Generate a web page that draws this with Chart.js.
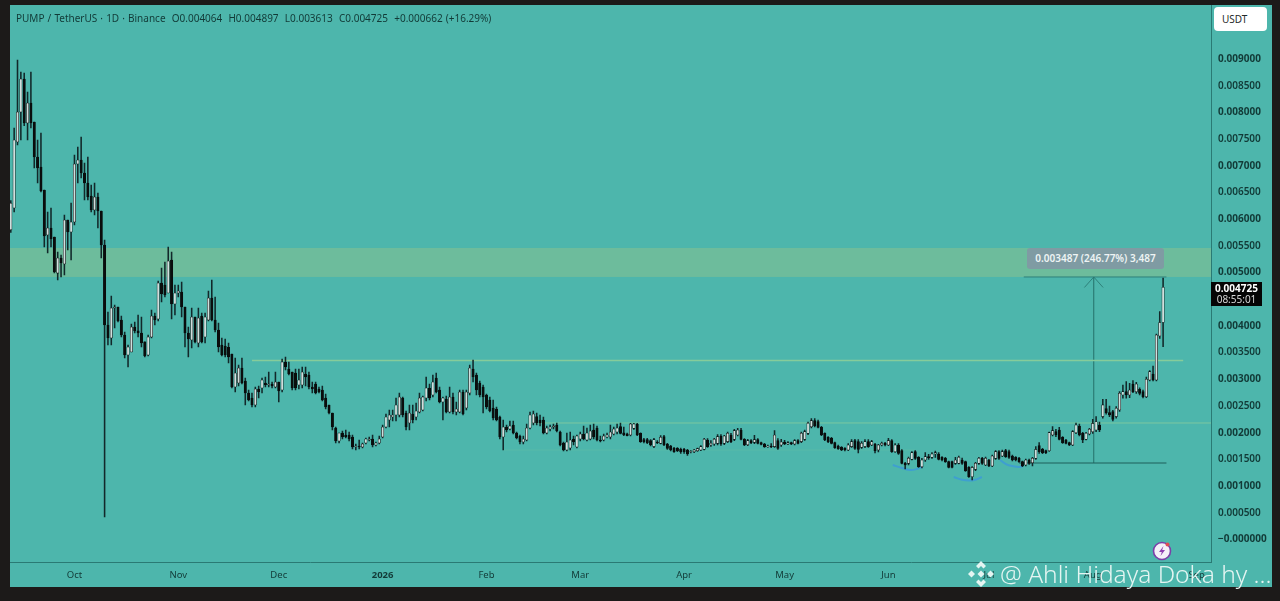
<!DOCTYPE html>
<html>
<head>
<meta charset="utf-8">
<title>PUMP / TetherUS</title>
<script src="https://cdn.jsdelivr.net/npm/chart.js@4"></script>
<style>
  html, body { margin: 0; padding: 0; width: 1280px; height: 601px; overflow: hidden; background: #1c1a19; }
  #panel { position: absolute; left: 10px; top: 5px; width: 1262px; height: 582px; background: #4db6ac; }
  #chart { position: absolute; left: 0; top: 0; }
  .abs { position: absolute; white-space: nowrap; font-family: "Noto Sans", sans-serif; }
  #header { left: 16px; top: 11px; font-size: 10px; line-height: 14px; color: #123a37; word-spacing: 0.5px; }
  #unit { left: 1214px; top: 7px; width: 53px; height: 24px; background: #fff; border-radius: 4px; font-size: 10px; line-height: 24px; text-indent: 8px; color: #1f2a2a; }
  #measure { left: 1027px; top: 248px; width: 137px; height: 21px; background: #7f9ba3; border-radius: 3px; text-align: center; font-size: 10px; font-weight: 600; line-height: 20px; color: #eef4f4; }
  #price { left: 1211px; top: 282px; width: 51px; height: 24px; background: #050505; color: #fff; text-align: center; font-size: 10px; font-weight: 700; line-height: 11px; padding-top: 1px; box-sizing: border-box; }
  #price span { display: block; font-weight: 400; color: #d8d8d8; }
  #watermark { left: 1000px; top: 557px; font-size: 24.5px; line-height: 34px; color: #e4f5f2; font-weight: 300; }
</style>
</head>
<body>
<div id="panel"></div>
<canvas id="chart" width="1280" height="601"></canvas>
<div class="abs" id="header">PUMP / TetherUS · 1D · Binance&nbsp; O0.004064&nbsp; H0.004897&nbsp; L0.003613&nbsp; C0.004725&nbsp; +0.000662 (+16.29%)</div>
<div class="abs" id="unit">USDT</div>
<div class="abs" id="measure">0.003487 (246.77%) 3,487</div>
<div class="abs" id="price">0.004725<span>08:55:01</span></div>
<svg class="abs" style="left:1151px;top:540px" width="22" height="22" viewBox="0 0 22 22">
  <circle cx="11" cy="11" r="8.5" fill="#f4f0f8" stroke="#7b3fa8" stroke-width="1.6"/>
  <path d="M12.5 6 L8 12 H10.8 L9.5 16 L14 10 H11.2 Z" fill="#8e3fb0"/>
  <circle cx="16.5" cy="4.5" r="2" fill="#e04a55"/>
</svg>
<svg class="abs" style="left:967px;top:560px" width="28" height="28" viewBox="0 0 28 28" fill="#e4f5f2">
  <path d="M14 1 L19 6 L16.5 8.5 L14 6 L11.5 8.5 L9 6 Z"/>
  <path d="M14 27 L19 22 L16.5 19.5 L14 22 L11.5 19.5 L9 22 Z"/>
  <path d="M1 14 L4.5 10.5 L8 14 L4.5 17.5 Z"/>
  <path d="M27 14 L23.5 10.5 L20 14 L23.5 17.5 Z"/>
  <path d="M14 10.5 L17.5 14 L14 17.5 L10.5 14 Z"/>
</svg>
<div class="abs" id="watermark">@ Ahli Hidaya Doka hy ...</div>
<script>
// daily candles from Sep 12, values in millionths of a USDT
const openMicro = [
  5800,6209,7445,8007,8625,7801,8176,7820,7164,6977,
  6546,5703,5834,5666,4990,5273,5160,5984,5760,5947,
  7033,7108,6864,6677,6433,6172,6415,6153,5516,4018,
  3774,4336,4355,4111,3830,3456,3512,3980,3906,3868,
  3700,3456,3793,4186,4130,4804,4767,4617,5235,4411,
  4617,4636,4355,3868,3737,4167,3680,4186,3793,4111,
  4523,4111,3924,3643,3624,3600,3474,2856,2931,3212,
  2968,2744,2650,2519,2819,2838,2931,2894,2912,2856,
  2950,2800,3324,3193,3137,3118,2894,2894,3099,3081,
  2856,2912,2819,2800,2650,2519,2369,2088,1845,1995,
  1957,1957,1920,1732,1751,1732,1807,1863,1882,1770,
  1807,1920,2107,2238,2294,2331,2331,2650,2369,2182,
  2350,2294,2388,2425,2650,2838,2706,3025,2800,2575,
  2631,2388,2669,2388,2388,2762,2462,2744,3193,3081,
  2931,2856,2706,2612,2462,2444,2294,1920,2107,2069,
  2144,1995,1938,1826,1863,2088,2182,2300,2238,2238,
  1995,2069,2107,2144,2013,1807,1676,1713,1882,1732,
  1882,1976,1863,1882,2051,2088,1863,1863,1920,1920,
  1976,2013,2113,2000,1980,1957,2082,2163,1989,1870,
  1870,1851,1739,1826,1801,1926,1789,1751,1707,1707,
  1689,1689,1676,1639,1645,1664,1676,1689,1864,1770,
  1789,1801,1939,1801,1833,1957,1876,1957,2051,1876,
  1776,1851,1820,1870,1814,1789,1739,1751,1739,1851,
  1770,1826,1789,1814,1789,1851,1833,1876,1989,2113,
  2226,2207,2101,1989,1914,1895,1814,1751,1726,1707,
  1676,1739,1851,1833,1726,1739,1833,1770,1782,1676,
  1770,1801,1770,1851,1645,1770,1664,1427,1427,1502,
  1645,1539,1364,1489,1551,1539,1601,1601,1539,1520,
  1457,1457,1426,1426,1489,1457,1351,1177,1314,1426,
  1520,1395,1489,1376,1520,1645,1564,1664,1645,1564,
  1539,1520,1457,1395,1489,1439,1520,1757,1688,1664,
  1664,1957,2019,2051,1913,1863,1813,1770,2001,2125,
  1988,1876,1976,2019,2051,2144,2301,2450,2375,2394,
  2301,2426,2707,2769,2707,2913,2769,2813,2769,2675,
  2988,3100,2988,3812,4064,
];
const highMicro = [
  6350,7707,8981,8756,8738,8382,8756,7820,7483,7614,
  6546,6134,6209,5666,5385,5329,6078,5984,6303,7202,
  7352,7539,7052,7164,6640,6677,6490,6153,5610,4261,
  4561,4392,4355,4186,3886,3643,4036,4074,4205,4167,
  3700,3830,4298,4242,4841,5085,5197,5479,5385,4767,
  4767,4823,4355,3980,4336,4167,4336,4242,4242,4655,
  4860,4542,4055,3774,3755,3680,3474,3400,3268,3400,
  3025,2800,2744,2856,2875,3025,3043,3137,2950,3137,
  2950,3381,3418,3324,3137,3193,3193,3230,3230,3137,
  2950,2950,2856,2875,2725,2519,2369,2107,1995,2032,
  2051,2013,1957,1789,1863,1807,1901,1920,1957,1826,
  1938,2144,2350,2425,2425,2650,2744,2669,2406,2519,
  2519,2556,2744,2687,3043,2912,3081,3118,2856,2669,
  2687,2856,2744,2575,2800,2800,2800,3268,3362,3118,
  2968,2894,2725,2669,2612,2481,2313,2238,2144,2219,
  2219,2013,1957,1938,2163,2388,2406,2369,2331,2294,
  2125,2144,2163,2182,2032,1826,1995,2013,1938,1957,
  2013,2125,2088,2144,2163,2125,1938,1976,1995,2144,
  2107,2163,2182,2107,1995,2176,2176,2176,2000,1895,
  1895,1870,1895,1851,1945,1951,1801,1764,1726,1720,
  1714,1707,1689,1664,1689,1714,1757,1895,1889,1851,
  1895,1964,1964,1951,2013,1989,2063,2082,2082,1889,
  1876,1870,1951,1889,1826,1801,1770,1795,2038,1889,
  1876,1857,1833,1826,1870,1870,2013,2051,2200,2263,
  2263,2238,2120,2000,1926,1914,1826,1770,1739,1720,
  1795,1870,1876,1870,1833,1870,1870,1857,1801,1782,
  1826,1820,1895,1870,1795,1795,1682,1445,1545,1645,
  1664,1551,1520,1626,1595,1626,1657,1626,1551,1539,
  1470,1470,1539,1564,1526,1470,1364,1364,1445,1539,
  1539,1545,1501,1582,1664,1664,1676,1689,1676,1582,
  1551,1539,1470,1507,1507,1539,1738,1813,1707,1676,
  2013,2113,2063,2100,1926,1876,1826,2038,2182,2163,
  2007,2007,2082,2250,2300,2200,2626,2626,2500,2420,
  2488,2769,2894,2957,2925,2976,2944,2840,2800,3040,
  3162,3250,3848,4268,4897,
];
const lowMicro = [
  5750,6134,7389,7483,7750,7483,7707,6958,6677,6508,
  5479,5366,5479,4991,4860,4916,4954,5422,5235,5891,
  6677,6771,6359,6359,6134,6078,5834,5273,421,3643,
  3643,3961,4074,3793,3400,3231,3512,3868,3793,3606,
  3418,3437,3774,4018,4092,4448,4542,4617,4130,4205,
  4542,4167,3606,3418,3587,3680,3606,3680,3680,4092,
  4092,3886,3512,3437,3418,3306,2838,2762,2875,2912,
  2519,2594,2481,2481,2650,2744,2856,2856,2838,2838,
  2575,2762,3175,3081,2800,2800,2819,2838,2875,2819,
  2744,2725,2744,2594,2444,2350,2051,1807,1807,1882,
  1901,1845,1695,1676,1695,1713,1789,1845,1732,1751,
  1789,1901,2088,2107,2219,2219,2294,2294,2051,2051,
  2182,2238,2369,2406,2594,2612,2669,2744,2556,2238,
  2369,2369,2350,2331,2369,2331,2425,2706,2950,2706,
  2669,2369,2444,2388,2238,2219,1882,1676,2013,2051,
  1976,1882,1789,1789,1845,2069,2144,2144,2125,1976,
  1976,2032,2069,2013,1751,1657,1657,1676,1770,1713,
  1845,1863,1845,1863,1882,1845,1826,1845,1901,1882,
  1957,1976,1976,1945,1940,1938,2063,1945,1820,1808,
  1795,1751,1720,1795,1789,1757,1689,1657,1632,1645,
  1614,1614,1576,1620,1626,1651,1664,1676,1726,1745,
  1764,1770,1764,1776,1814,1814,1851,1939,1864,1757,
  1757,1795,1795,1789,1770,1726,1726,1720,1726,1689,
  1745,1776,1776,1776,1770,1789,1814,1857,1964,2088,
  2107,2088,1945,1851,1814,1789,1707,1689,1664,1657,
  1664,1726,1689,1620,1707,1720,1726,1757,1620,1639,
  1751,1751,1757,1632,1632,1595,1414,1320,1395,1489,
  1502,1352,1339,1460,1500,1520,1539,1489,1470,1445,
  1339,1339,1407,1414,1407,1276,1164,1114,1289,1407,
  1407,1382,1364,1364,1501,1501,1551,1539,1520,1470,
  1470,1445,1364,1376,1407,1376,1501,1613,1607,1607,
  1651,1938,1926,1863,1801,1788,1757,1757,1982,1938,
  1813,1863,1957,1988,2020,2020,2270,2345,2300,2220,
  2270,2400,2645,2645,2657,2750,2738,2710,2650,2657,
  2969,2969,2969,3768,3613,
];
const closeMicro = [
  6300,7483,8007,8625,7801,8176,7801,7164,6958,6527,
  5685,5834,5629,5010,5273,5180,5984,5760,5947,7033,
  7108,6864,6677,6415,6172,6415,6153,5516,4018,3774,
  4336,4355,4092,3830,3456,3606,3980,3906,3868,3680,
  3437,3793,4186,4111,4804,4598,4579,5216,4411,4617,
  4655,4355,3868,3755,4167,3699,4149,3699,4167,4523,
  4111,3924,3606,3456,3456,3418,2856,3118,3212,2931,
  2744,2612,2519,2819,2762,2987,2894,2912,2875,2950,
  2781,3324,3230,3099,2838,2838,2987,3137,3043,2856,
  2819,2744,2762,2612,2481,2369,2107,1845,1995,1920,
  1920,1882,1732,1751,1732,1789,1882,1882,1770,1807,
  1882,2107,2294,2331,2331,2519,2669,2331,2107,2369,
  2238,2406,2650,2669,2838,2650,2950,2762,2575,2650,
  2388,2669,2388,2444,2762,2350,2762,3212,3043,2800,
  2706,2669,2481,2406,2275,2238,1920,2107,2051,2125,
  1995,1901,1826,1882,2088,2331,2350,2182,2182,1995,
  2088,2107,2125,2032,1770,1676,1826,1863,1826,1938,
  1976,1882,1995,2032,1920,1863,1845,1938,1957,2013,
  2069,2088,1989,1960,1945,2163,2163,1957,1833,1833,
  1814,1770,1870,1814,1914,1770,1707,1676,1645,1664,
  1639,1645,1601,1645,1676,1701,1739,1876,1739,1801,
  1876,1926,1789,1939,1989,1833,2038,2051,1876,1770,
  1851,1814,1870,1801,1782,1739,1751,1739,1957,1707,
  1826,1789,1814,1789,1851,1801,1989,2020,2176,2226,
  2126,2101,1957,1864,1833,1801,1720,1701,1676,1676,
  1770,1833,1707,1689,1801,1833,1739,1833,1664,1770,
  1801,1770,1851,1645,1770,1614,1427,1395,1520,1626,
  1520,1364,1489,1551,1526,1601,1626,1501,1489,1457,
  1351,1351,1489,1539,1426,1289,1177,1351,1426,1520,
  1426,1520,1376,1564,1645,1520,1645,1551,1539,1489,
  1489,1457,1376,1489,1426,1520,1688,1645,1626,1626,
  2001,2038,1957,1876,1813,1801,1770,2019,2144,1957,
  1863,1988,2063,2175,2206,2051,2520,2375,2332,2251,
  2457,2738,2769,2707,2800,2769,2913,2738,2675,3000,
  3144,2988,3830,4063,4725,
];

const priceTicks = [0, 0.0005, 0.001, 0.0015, 0.002, 0.0025, 0.003, 0.0035, 0.004, 0.0045, 0.005, 0.0055, 0.006, 0.0065, 0.007, 0.0075, 0.008, 0.0085, 0.009];
const monthTicks = [19, 50, 80, 111, 142, 170, 201, 231, 262, 292, 323, 354];
const monthLabels = ["Oct", "Nov", "Dec", "2026", "Feb", "Mar", "Apr", "May", "Jun", "Jul", "Aug", "Sep"];

// drawn levels and tools, [candle index, price]
const resistanceZone = [0.004917, 0.00546];
const levelHigh = [[72, 0.003353], [350, 0.003353]];
const levelMid = [[155, 0.002182], [358.3, 0.002182]];
const levelLow = [[147, 0.001676], [270, 0.001676]];
const baseLine = [[301, 0.001433], [345, 0.001433]];
const topLine = [[302.4, 0.004917], [345, 0.004917]];
const arrowShaft = [[323.3, 0.001433], [323.3, 0.004917]];
const arrowHead = [[320.5, 0.00472], [323.3, 0.004917], [326.1, 0.00472]];
const bottomLeft = [[263.3, 0.001395], [266, 0.00134], [268.5, 0.001300], [270.5, 0.00132], [272.3, 0.001370]];
const bottomMid = [[281.5, 0.001170], [284, 0.00112], [286, 0.001105], [288, 0.00112], [289.9, 0.001170]];
const bottomRight = [[295.3, 0.001489], [297.5, 0.00140], [299.5, 0.001370], [301, 0.00136], [302.2, 0.001375]];

const toMicro = (v) => v / 1e6;

const wickBars = highMicro.map((h, i) => ({ x: i, y: [toMicro(lowMicro[i]), toMicro(h)] }));
const bodyBars = openMicro.map((o, i) => ({ x: i, y: [toMicro(o), toMicro(closeMicro[i])] }));

function toolLine(points, color, width, tension) {
  return {
    type: "line",
    data: points.map((p) => ({ x: p[0], y: p[1] })),
    borderColor: color,
    borderWidth: width,
    pointRadius: 0,
    tension: tension || 0,
    order: 5,
  };
}

const zonePlugin = {
  id: "zone",
  beforeDatasetsDraw(chart) {
    const { ctx, chartArea, scales } = chart;
    const top = scales.y.getPixelForValue(resistanceZone[1]);
    const bottom = scales.y.getPixelForValue(resistanceZone[0]);
    ctx.save();
    ctx.fillStyle = "#6dbc9c";
    ctx.fillRect(chartArea.left, top, chartArea.width, bottom - top);
    ctx.restore();
  },
};

new Chart(document.getElementById("chart"), {
  data: {
    datasets: [
      {
        type: "bar",
        data: wickBars,
        backgroundColor: "#12282a",
        barThickness: 0.9,
        grouped: false,
        order: 2,
      },
      {
        type: "bar",
        data: bodyBars,
        backgroundColor: (c) => (closeMicro[c.dataIndex] >= openMicro[c.dataIndex] ? "#cfe0de" : "#0a0d0d"),
        borderColor: "#0a0d0d",
        borderWidth: 0.6,
        borderSkipped: false,
        barThickness: 2.4,
        grouped: false,
        order: 1,
      },
      toolLine(levelHigh, "#86cc9a", 1.5),
      toolLine(levelMid, "#7cc8a0", 1),
      toolLine(levelLow, "#58baa8", 1),
      toolLine(baseLine, "#1f5f5a", 1.2),
      toolLine(topLine, "#2f807a", 1),
      toolLine(arrowShaft, "#24706a", 1),
      toolLine(arrowHead, "#2f807a", 1),
      toolLine(bottomLeft, "#3f9fd0", 2, 0.4),
      toolLine(bottomMid, "#3f9fd0", 2, 0.4),
      toolLine(bottomRight, "#3f9fd0", 2, 0.4),
    ],
  },
  options: {
    responsive: false,
    animation: false,
    events: [],
    layout: { autoPadding: false, padding: { left: 10, top: 5, right: 8, bottom: 14 } },
    plugins: { legend: { display: false }, tooltip: { enabled: false } },
    scales: {
      x: {
        type: "linear",
        offset: false,
        min: -0.24,
        max: 358.3,
        grid: { display: false, drawTicks: false },
        border: { color: "#2a7a74" },
        afterBuildTicks: (s) => { s.ticks = monthTicks.map((v) => ({ value: v })); },
        afterFit: (s) => { s.height = 24.5; s.paddingLeft = 0; s.paddingRight = 0; },
        ticks: {
          autoSkip: false,
          maxRotation: 0,
          padding: 7,
          color: "#123a37",
          font: (c) => ({ family: "Noto Sans", size: 9.5, weight: monthLabels[c.index] === "2026" ? "700" : "400" }),
          callback: (v, i) => monthLabels[i],
        },
      },
      y: {
        position: "right",
        min: -0.000431,
        max: 0.010011,
        grid: { display: false, drawTicks: false },
        border: { color: "#2a7a74" },
        afterBuildTicks: (s) => { s.ticks = priceTicks.map((v) => ({ value: v })); },
        afterFit: (s) => { s.width = 61; s.paddingTop = 0; s.paddingBottom = 0; },
        ticks: {
          autoSkip: false,
          padding: 7,
          color: "#123a37",
          font: (c) => ({ family: "Noto Sans", size: 10, weight: c.index % 2 === 0 ? "700" : "600" }),
          callback: (v) => (v === 0 ? "\u22120.000000" : v.toFixed(6)),
        },
      },
    },
  },
  plugins: [zonePlugin],
});
</script>
</body>
</html>
